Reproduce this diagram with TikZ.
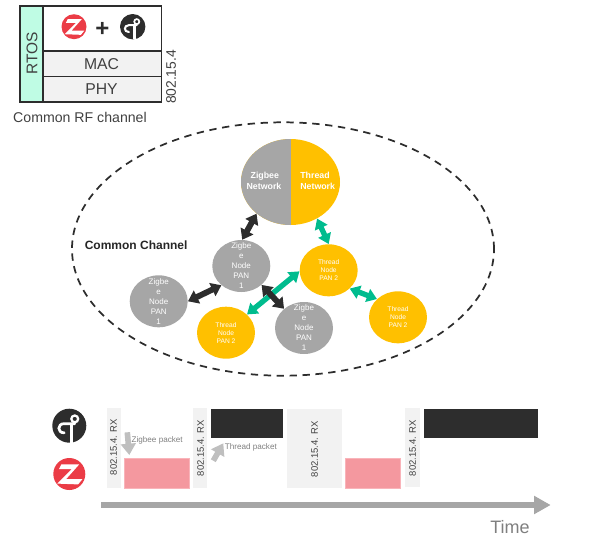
\documentclass[tikz,border=0pt]{standalone}
\usepackage{fontspec}
\setmainfont{Liberation Sans}
\usetikzlibrary{arrows.meta,shapes.geometric}
\definecolor{cgray}{HTML}{A6A6A6}
\definecolor{cgold}{HTML}{FFC000}
\definecolor{cgreen}{HTML}{00BC8E}
\definecolor{cdark}{HTML}{2D2D2D}
\definecolor{cpink}{HTML}{F4989F}
\definecolor{cpinkedge}{HTML}{F9B4BA}
\definecolor{crx}{HTML}{F2F2F2}
\definecolor{cmint}{HTML}{BFFCE4}
\definecolor{ctxt}{HTML}{404040}
\definecolor{cmuted}{HTML}{7F7F7F}
\definecolor{cblock}{HTML}{BFBFBF}
\definecolor{cred}{HTML}{EB3C46}
\newcommand{\fs}[2]{\fontsize{#1}{#2}\selectfont}
\tikzset{
  txt/.style={inner sep=0pt,text=ctxt},
  cellbox/.style={draw=cdark,line width=1pt},
  rotlabel/.style={txt,rotate=90,font=\fs{7.1}{9}},
  ellnode/.style={ellipse,inner sep=0pt,minimum width=58*0.75pt,minimum height=52*0.75pt},
  znode/.style={ellnode,fill=cgray},
  tnode/.style={ellnode,fill=cgold},
  zlabel/.style={inner sep=0pt,text=white,align=center,font=\fs{6}{7.5}},
  tlabel/.style={inner sep=0pt,text=white,align=center,font=\fs{5}{6}},
  netlabel/.style={inner sep=0pt,text=white,align=left,font=\bfseries\fs{6.6}{8}},
  darklink/.style={draw=cdark,line width=4.4pt,{Triangle[length=7.5pt,width=10.5pt]}-{Triangle[length=7.5pt,width=10.5pt]}},
  greenlink/.style={draw=cgreen,line width=4pt,{Triangle[length=7.5pt,width=10pt]}-{Triangle[length=7.5pt,width=10pt]}},
  blockarrow/.style={draw=cblock,line width=4.2pt,-{Triangle[length=8.5pt,width=11pt]}},
  rxbox/.style={fill=crx},
  pinkbox/.style={fill=cpink,draw=cpinkedge,line width=.6pt},
  darkbox/.style={fill=cdark},
  pktlabel/.style={inner sep=0pt,text=cmuted,font=\fs{6.1}{7}}
}
\newcommand{\zlogo}[3]{%
  \begin{scope}[shift={(#1,#2)},x=#3*0.75pt,y=#3*0.75pt]
    \fill[cred] (0,0) circle (1);
    \fill[white] (-.5,.6)--(.62,.6)--(-.2,-.32)--(.82,-.32)--(.55,-.65)--(-.75,-.6)--(.15,.3)--(-.65,.3)--cycle;
  \end{scope}}
\newcommand{\tlogo}[3]{%
  \begin{scope}[shift={(#1,#2)},x=#3*0.75pt,y=#3*0.75pt]
    \fill[cdark] (0,0) circle (1);
    \draw[white,line width=#3*0.1pt,line cap=round] (.32,.4) circle (.2);
    \draw[white,line width=#3*0.14pt] (.13,.1)--(.13,-1);
    \draw[white,line width=#3*0.12pt,line cap=round] (.32,.12)--(-.3,.12) .. controls (-.72,.12) and (-.72,-.42) .. (-.3,-.42);
  \end{scope}}
\begin{document}
\begin{tikzpicture}[x=0.75pt,y=-0.75pt]
\useasboundingbox (0,0) rectangle (593,540);
% stack
\fill[cmint] (20,6) rectangle (43,102);
\fill[crx] (43,51) rectangle (161.7,102);
\draw[cellbox] (20,6) rectangle (161.7,102);
\draw[cellbox] (43,6) -- (43,102);
\draw[cellbox] (43,51) -- (161.7,51);
\draw[cellbox] (43,76.7) -- (161.7,76.7);
\node[txt,rotate=90,font=\fs{11.6}{14}] (rtos) at (32,53) {RTOS};
\node[txt,font=\fs{11.8}{14}] (mac) at (101.5,64) {MAC};
\node[txt,font=\fs{11.8}{14}] (phy) at (101.5,89.5) {PHY};
\node[txt,rotate=90,font=\fs{10.4}{12}] (std) at (171,77) {802.15.4};
\node[txt,font=\fs{10.6}{13}] (rf) at (80,117) {Common RF channel};
\zlogo{74}{26.7}{12.5}
\node[inner sep=0pt,text=cdark,font=\bfseries\fs{18}{19}] (plus) at (102.5,29.5) {+};
\tlogo{132.7}{26.7}{12.7}
% common channel
\node[draw=cdark,line width=1.3pt,dash pattern=on 5.5pt off 4.2pt,ellipse,inner sep=0pt,minimum width=422*0.75pt,minimum height=253.4*0.75pt] (chan) at (283,249) {};
\node[inner sep=0pt,text=black!85,font=\bfseries\fs{9}{11},anchor=west] (chanlabel) at (84.5,245.5) {Common Channel};
\node[ellipse,fill=cgold,inner sep=0pt,minimum width=99*0.75pt,minimum height=86*0.75pt,
  path picture={\fill[cgray] (path picture bounding box.south west) rectangle (path picture bounding box.north);}] (big) at (290.5,182) {};
\node[netlabel] (zn) at (264,180.7) {\hspace*{3pt}Zigbee\\Network};
\node[netlabel] (tn) at (317.7,180.7) {Thread\\Network};
\node[znode] (z1) at (241.3,266) {};
\node[znode] (z2) at (158.7,301.3) {};
\node[znode] (z3) at (304,328) {};
\node[tnode] (t1) at (328.7,270.3) {};
\node[tnode] (t2) at (226,332.7) {};
\node[tnode] (t3) at (398,317.3) {};
\node[zlabel] (z1t) at (z1) {Zigbe\\e\\Node\\PAN\\1};
\node[zlabel] (z2t) at (z2) {Zigbe\\e\\Node\\PAN\\1};
\node[zlabel] (z3t) at (z3) {Zigbe\\e\\Node\\PAN\\1};
\node[tlabel] (t1t) at (t1) {Thread\\Node\\PAN 2};
\node[tlabel] (t2t) at (t2) {Thread\\Node\\PAN 2};
\node[tlabel] (t3t) at (t3) {Thread\\Node\\PAN 2};
\draw[greenlink] (big.306) -- (t1.90);
\draw[greenlink] (t1.182) -- (t2.41);
\draw[greenlink] (t1.319) -- (t3.139);
\draw[darklink] (big.223) -- (z1.88);
\draw[darklink] (z1.224) -- (z2.0);
\draw[darklink] (z1.317) -- (z3.136);
% timeline
\tlogo{69.3}{425.7}{17}
\zlogo{69.3}{474}{16}
\fill[rxbox] (106.7,408) rectangle (121,488);
\fill[rxbox] (193,408) rectangle (206.7,488);
\fill[rxbox] (287,409) rectangle (341.7,488.3);
\fill[rxbox] (405.3,408) rectangle (420.3,487);
\draw[pinkbox] (124.3,458.7) rectangle (189.3,488.3);
\draw[pinkbox] (345.3,458.7) rectangle (400.7,488);
\fill[darkbox] (210.7,409) rectangle (283.3,438.3);
\fill[darkbox] (423.7,409) rectangle (537.7,437.7);
\node[rotlabel] (rx1) at (113.7,447) {802.15.4. RX};
\node[rotlabel] (rx2) at (200.7,448) {802.15.4. RX};
\node[rotlabel] (rx3) at (314.7,449) {802.15.4. RX};
\node[rotlabel] (rx4) at (412.7,448) {802.15.4. RX};
\coordinate (za) at (127.3,432.3);
\coordinate (zb) at (129.3,455);
\coordinate (ta) at (213.3,460.7);
\coordinate (tb) at (223.3,443.3);
\draw[blockarrow] (za) -- (zb);
\draw[blockarrow] (ta) -- (tb);
\node[pktlabel] (zp) at (157.2,440) {Zigbee packet};
\node[pktlabel] (tp) at (250.8,447.7) {Thread packet};
\coordinate (t0) at (101.3,505);
\coordinate (t9) at (550.7,505);
\draw[cgray,line width=4.5pt,-{Triangle[length=12.5pt,width=13pt]}] (t0) -- (t9);
\node[inner sep=0pt,text=cmuted,font=\fs{13.5}{16}] (time) at (510,527) {Time};
\end{tikzpicture}
\end{document}
